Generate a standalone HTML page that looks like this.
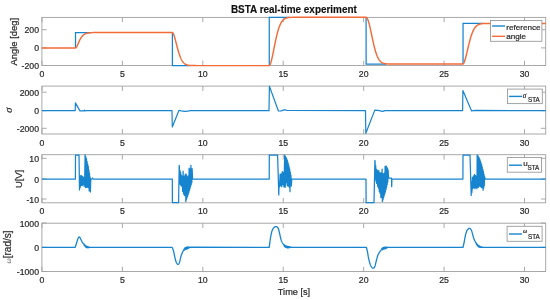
<!DOCTYPE html>
<html><head><meta charset="utf-8"><title>BSTA real-time experiment</title>
<style>html,body{margin:0;padding:0;background:#fff;width:550px;height:300px;overflow:hidden}svg{display:block}</style>
</head><body>
<svg width="550" height="300" viewBox="0 0 550 300">
<style>text{stroke:#2a2a2a;stroke-width:0.22px}</style>
<rect width="550" height="300" fill="#fff"/>
<rect x="41.9" y="17.4" width="503.8" height="48.1" fill="#fff" stroke="#a0a0a0" stroke-width="0.9"/>
<path d="M41.98,65.5 v-4.8 M41.98,17.4 v4.8" stroke="#a0a0a0" stroke-width="0.9"/>
<text x="41.98" y="77.1" font-size="8.7" text-anchor="middle" font-weight="normal" font-family="'Liberation Sans', Arial, sans-serif" fill="#2a2a2a" >0</text>
<path d="M122.4,65.5 v-4.8 M122.4,17.4 v4.8" stroke="#a0a0a0" stroke-width="0.9"/>
<text x="122.4" y="77.1" font-size="8.7" text-anchor="middle" font-weight="normal" font-family="'Liberation Sans', Arial, sans-serif" fill="#2a2a2a" >5</text>
<path d="M202.82,65.5 v-4.8 M202.82,17.4 v4.8" stroke="#a0a0a0" stroke-width="0.9"/>
<text x="202.82" y="77.1" font-size="8.7" text-anchor="middle" font-weight="normal" font-family="'Liberation Sans', Arial, sans-serif" fill="#2a2a2a" >10</text>
<path d="M283.24,65.5 v-4.8 M283.24,17.4 v4.8" stroke="#a0a0a0" stroke-width="0.9"/>
<text x="283.24" y="77.1" font-size="8.7" text-anchor="middle" font-weight="normal" font-family="'Liberation Sans', Arial, sans-serif" fill="#2a2a2a" >15</text>
<path d="M363.66,65.5 v-4.8 M363.66,17.4 v4.8" stroke="#a0a0a0" stroke-width="0.9"/>
<text x="363.66" y="77.1" font-size="8.7" text-anchor="middle" font-weight="normal" font-family="'Liberation Sans', Arial, sans-serif" fill="#2a2a2a" >20</text>
<path d="M444.08,65.5 v-4.8 M444.08,17.4 v4.8" stroke="#a0a0a0" stroke-width="0.9"/>
<text x="444.08" y="77.1" font-size="8.7" text-anchor="middle" font-weight="normal" font-family="'Liberation Sans', Arial, sans-serif" fill="#2a2a2a" >25</text>
<path d="M524.5,65.5 v-4.8 M524.5,17.4 v4.8" stroke="#a0a0a0" stroke-width="0.9"/>
<text x="524.5" y="77.1" font-size="8.7" text-anchor="middle" font-weight="normal" font-family="'Liberation Sans', Arial, sans-serif" fill="#2a2a2a" >30</text>
<path d="M41.9,29.7 h4.8 M545.7,29.7 h-4.8" stroke="#a0a0a0" stroke-width="0.9"/>
<text x="39" y="33.2" font-size="8.7" text-anchor="end" font-weight="normal" font-family="'Liberation Sans', Arial, sans-serif" fill="#2a2a2a" >200</text>
<path d="M41.9,47.9 h4.8 M545.7,47.9 h-4.8" stroke="#a0a0a0" stroke-width="0.9"/>
<text x="39" y="51.4" font-size="8.7" text-anchor="end" font-weight="normal" font-family="'Liberation Sans', Arial, sans-serif" fill="#2a2a2a" >0</text>
<path d="M41.9,65.5 h4.8 M545.7,65.5 h-4.8" stroke="#a0a0a0" stroke-width="0.9"/>
<text x="39" y="69" font-size="8.7" text-anchor="end" font-weight="normal" font-family="'Liberation Sans', Arial, sans-serif" fill="#2a2a2a" >-200</text>
<rect x="41.9" y="86.1" width="503.8" height="47.9" fill="#fff" stroke="#a0a0a0" stroke-width="0.9"/>
<path d="M41.98,134 v-4.8 M41.98,86.1 v4.8" stroke="#a0a0a0" stroke-width="0.9"/>
<text x="41.98" y="145.6" font-size="8.7" text-anchor="middle" font-weight="normal" font-family="'Liberation Sans', Arial, sans-serif" fill="#2a2a2a" >0</text>
<path d="M122.4,134 v-4.8 M122.4,86.1 v4.8" stroke="#a0a0a0" stroke-width="0.9"/>
<text x="122.4" y="145.6" font-size="8.7" text-anchor="middle" font-weight="normal" font-family="'Liberation Sans', Arial, sans-serif" fill="#2a2a2a" >5</text>
<path d="M202.82,134 v-4.8 M202.82,86.1 v4.8" stroke="#a0a0a0" stroke-width="0.9"/>
<text x="202.82" y="145.6" font-size="8.7" text-anchor="middle" font-weight="normal" font-family="'Liberation Sans', Arial, sans-serif" fill="#2a2a2a" >10</text>
<path d="M283.24,134 v-4.8 M283.24,86.1 v4.8" stroke="#a0a0a0" stroke-width="0.9"/>
<text x="283.24" y="145.6" font-size="8.7" text-anchor="middle" font-weight="normal" font-family="'Liberation Sans', Arial, sans-serif" fill="#2a2a2a" >15</text>
<path d="M363.66,134 v-4.8 M363.66,86.1 v4.8" stroke="#a0a0a0" stroke-width="0.9"/>
<text x="363.66" y="145.6" font-size="8.7" text-anchor="middle" font-weight="normal" font-family="'Liberation Sans', Arial, sans-serif" fill="#2a2a2a" >20</text>
<path d="M444.08,134 v-4.8 M444.08,86.1 v4.8" stroke="#a0a0a0" stroke-width="0.9"/>
<text x="444.08" y="145.6" font-size="8.7" text-anchor="middle" font-weight="normal" font-family="'Liberation Sans', Arial, sans-serif" fill="#2a2a2a" >25</text>
<path d="M524.5,134 v-4.8 M524.5,86.1 v4.8" stroke="#a0a0a0" stroke-width="0.9"/>
<text x="524.5" y="145.6" font-size="8.7" text-anchor="middle" font-weight="normal" font-family="'Liberation Sans', Arial, sans-serif" fill="#2a2a2a" >30</text>
<path d="M41.9,92.2 h4.8 M545.7,92.2 h-4.8" stroke="#a0a0a0" stroke-width="0.9"/>
<text x="39" y="95.7" font-size="8.7" text-anchor="end" font-weight="normal" font-family="'Liberation Sans', Arial, sans-serif" fill="#2a2a2a" >2000</text>
<path d="M41.9,110.7 h4.8 M545.7,110.7 h-4.8" stroke="#a0a0a0" stroke-width="0.9"/>
<text x="39" y="114.2" font-size="8.7" text-anchor="end" font-weight="normal" font-family="'Liberation Sans', Arial, sans-serif" fill="#2a2a2a" >0</text>
<path d="M41.9,128.3 h4.8 M545.7,128.3 h-4.8" stroke="#a0a0a0" stroke-width="0.9"/>
<text x="39" y="131.8" font-size="8.7" text-anchor="end" font-weight="normal" font-family="'Liberation Sans', Arial, sans-serif" fill="#2a2a2a" >-2000</text>
<rect x="41.9" y="154.7" width="503.8" height="48.1" fill="#fff" stroke="#a0a0a0" stroke-width="0.9"/>
<path d="M41.98,202.8 v-4.8 M41.98,154.7 v4.8" stroke="#a0a0a0" stroke-width="0.9"/>
<text x="41.98" y="214.4" font-size="8.7" text-anchor="middle" font-weight="normal" font-family="'Liberation Sans', Arial, sans-serif" fill="#2a2a2a" >0</text>
<path d="M122.4,202.8 v-4.8 M122.4,154.7 v4.8" stroke="#a0a0a0" stroke-width="0.9"/>
<text x="122.4" y="214.4" font-size="8.7" text-anchor="middle" font-weight="normal" font-family="'Liberation Sans', Arial, sans-serif" fill="#2a2a2a" >5</text>
<path d="M202.82,202.8 v-4.8 M202.82,154.7 v4.8" stroke="#a0a0a0" stroke-width="0.9"/>
<text x="202.82" y="214.4" font-size="8.7" text-anchor="middle" font-weight="normal" font-family="'Liberation Sans', Arial, sans-serif" fill="#2a2a2a" >10</text>
<path d="M283.24,202.8 v-4.8 M283.24,154.7 v4.8" stroke="#a0a0a0" stroke-width="0.9"/>
<text x="283.24" y="214.4" font-size="8.7" text-anchor="middle" font-weight="normal" font-family="'Liberation Sans', Arial, sans-serif" fill="#2a2a2a" >15</text>
<path d="M363.66,202.8 v-4.8 M363.66,154.7 v4.8" stroke="#a0a0a0" stroke-width="0.9"/>
<text x="363.66" y="214.4" font-size="8.7" text-anchor="middle" font-weight="normal" font-family="'Liberation Sans', Arial, sans-serif" fill="#2a2a2a" >20</text>
<path d="M444.08,202.8 v-4.8 M444.08,154.7 v4.8" stroke="#a0a0a0" stroke-width="0.9"/>
<text x="444.08" y="214.4" font-size="8.7" text-anchor="middle" font-weight="normal" font-family="'Liberation Sans', Arial, sans-serif" fill="#2a2a2a" >25</text>
<path d="M524.5,202.8 v-4.8 M524.5,154.7 v4.8" stroke="#a0a0a0" stroke-width="0.9"/>
<text x="524.5" y="214.4" font-size="8.7" text-anchor="middle" font-weight="normal" font-family="'Liberation Sans', Arial, sans-serif" fill="#2a2a2a" >30</text>
<path d="M41.9,158.3 h4.8 M545.7,158.3 h-4.8" stroke="#a0a0a0" stroke-width="0.9"/>
<text x="39" y="161.8" font-size="8.7" text-anchor="end" font-weight="normal" font-family="'Liberation Sans', Arial, sans-serif" fill="#2a2a2a" >10</text>
<path d="M41.9,179 h4.8 M545.7,179 h-4.8" stroke="#a0a0a0" stroke-width="0.9"/>
<text x="39" y="182.5" font-size="8.7" text-anchor="end" font-weight="normal" font-family="'Liberation Sans', Arial, sans-serif" fill="#2a2a2a" >0</text>
<path d="M41.9,199 h4.8 M545.7,199 h-4.8" stroke="#a0a0a0" stroke-width="0.9"/>
<text x="39" y="202.5" font-size="8.7" text-anchor="end" font-weight="normal" font-family="'Liberation Sans', Arial, sans-serif" fill="#2a2a2a" >-10</text>
<rect x="41.9" y="223.2" width="503.8" height="48.3" fill="#fff" stroke="#a0a0a0" stroke-width="0.9"/>
<path d="M41.98,271.5 v-4.8 M41.98,223.2 v4.8" stroke="#a0a0a0" stroke-width="0.9"/>
<text x="41.98" y="283.1" font-size="8.7" text-anchor="middle" font-weight="normal" font-family="'Liberation Sans', Arial, sans-serif" fill="#2a2a2a" >0</text>
<path d="M122.4,271.5 v-4.8 M122.4,223.2 v4.8" stroke="#a0a0a0" stroke-width="0.9"/>
<text x="122.4" y="283.1" font-size="8.7" text-anchor="middle" font-weight="normal" font-family="'Liberation Sans', Arial, sans-serif" fill="#2a2a2a" >5</text>
<path d="M202.82,271.5 v-4.8 M202.82,223.2 v4.8" stroke="#a0a0a0" stroke-width="0.9"/>
<text x="202.82" y="283.1" font-size="8.7" text-anchor="middle" font-weight="normal" font-family="'Liberation Sans', Arial, sans-serif" fill="#2a2a2a" >10</text>
<path d="M283.24,271.5 v-4.8 M283.24,223.2 v4.8" stroke="#a0a0a0" stroke-width="0.9"/>
<text x="283.24" y="283.1" font-size="8.7" text-anchor="middle" font-weight="normal" font-family="'Liberation Sans', Arial, sans-serif" fill="#2a2a2a" >15</text>
<path d="M363.66,271.5 v-4.8 M363.66,223.2 v4.8" stroke="#a0a0a0" stroke-width="0.9"/>
<text x="363.66" y="283.1" font-size="8.7" text-anchor="middle" font-weight="normal" font-family="'Liberation Sans', Arial, sans-serif" fill="#2a2a2a" >20</text>
<path d="M444.08,271.5 v-4.8 M444.08,223.2 v4.8" stroke="#a0a0a0" stroke-width="0.9"/>
<text x="444.08" y="283.1" font-size="8.7" text-anchor="middle" font-weight="normal" font-family="'Liberation Sans', Arial, sans-serif" fill="#2a2a2a" >25</text>
<path d="M524.5,271.5 v-4.8 M524.5,223.2 v4.8" stroke="#a0a0a0" stroke-width="0.9"/>
<text x="524.5" y="283.1" font-size="8.7" text-anchor="middle" font-weight="normal" font-family="'Liberation Sans', Arial, sans-serif" fill="#2a2a2a" >30</text>
<path d="M41.9,223 h4.8 M545.7,223 h-4.8" stroke="#a0a0a0" stroke-width="0.9"/>
<text x="39" y="226.5" font-size="8.7" text-anchor="end" font-weight="normal" font-family="'Liberation Sans', Arial, sans-serif" fill="#2a2a2a" >1000</text>
<path d="M41.9,247.3 h4.8 M545.7,247.3 h-4.8" stroke="#a0a0a0" stroke-width="0.9"/>
<text x="39" y="250.8" font-size="8.7" text-anchor="end" font-weight="normal" font-family="'Liberation Sans', Arial, sans-serif" fill="#2a2a2a" >0</text>
<path d="M41.9,271.5 h4.8 M545.7,271.5 h-4.8" stroke="#a0a0a0" stroke-width="0.9"/>
<text x="39" y="275" font-size="8.7" text-anchor="end" font-weight="normal" font-family="'Liberation Sans', Arial, sans-serif" fill="#2a2a2a" >-1000</text>
<path d="M75.5,47.9 L75.5,32.5 L91.4,32.5 M172.4,32.5 L172.4,65.6 L190.15,65.6 M269.25,65.6 L269.25,17.3 L289.9,17.3 M366.1,17.3 L366.1,64 L386.65,64 M463.05,64 L463.05,23.4 L483.4,23.4" fill="none" stroke="#1784cf" stroke-width="1.25" stroke-linejoin="miter"/>
<path d="M41.9,47.9 L42.15,47.9 L42.4,47.9 L42.65,47.9 L42.9,47.9 L43.15,47.9 L43.4,47.9 L43.65,47.9 L43.9,47.9 L44.15,47.9 L44.4,47.9 L44.65,47.9 L44.9,47.9 L45.15,47.9 L45.4,47.9 L45.65,47.9 L45.9,47.9 L46.15,47.9 L46.4,47.9 L46.65,47.9 L46.9,47.9 L47.15,47.9 L47.4,47.9 L47.65,47.9 L47.9,47.9 L48.15,47.9 L48.4,47.9 L48.65,47.9 L48.9,47.9 L49.15,47.9 L49.4,47.9 L49.65,47.9 L49.9,47.9 L50.15,47.9 L50.4,47.9 L50.65,47.9 L50.9,47.9 L51.15,47.9 L51.4,47.9 L51.65,47.9 L51.9,47.9 L52.15,47.9 L52.4,47.9 L52.65,47.9 L52.9,47.9 L53.15,47.9 L53.4,47.9 L53.65,47.9 L53.9,47.9 L54.15,47.9 L54.4,47.9 L54.65,47.9 L54.9,47.9 L55.15,47.9 L55.4,47.9 L55.65,47.9 L55.9,47.9 L56.15,47.9 L56.4,47.9 L56.65,47.9 L56.9,47.9 L57.15,47.9 L57.4,47.9 L57.65,47.9 L57.9,47.9 L58.15,47.9 L58.4,47.9 L58.65,47.9 L58.9,47.9 L59.15,47.9 L59.4,47.9 L59.65,47.9 L59.9,47.9 L60.15,47.9 L60.4,47.9 L60.65,47.9 L60.9,47.9 L61.15,47.9 L61.4,47.9 L61.65,47.9 L61.9,47.9 L62.15,47.9 L62.4,47.9 L62.65,47.9 L62.9,47.9 L63.15,47.9 L63.4,47.9 L63.65,47.9 L63.9,47.9 L64.15,47.9 L64.4,47.9 L64.65,47.9 L64.9,47.9 L65.15,47.9 L65.4,47.9 L65.65,47.9 L65.9,47.9 L66.15,47.9 L66.4,47.9 L66.65,47.9 L66.9,47.9 L67.15,47.9 L67.4,47.9 L67.65,47.9 L67.9,47.9 L68.15,47.9 L68.4,47.9 L68.65,47.9 L68.9,47.9 L69.15,47.9 L69.4,47.9 L69.65,47.9 L69.9,47.9 L70.15,47.9 L70.4,47.9 L70.65,47.9 L70.9,47.9 L71.15,47.9 L71.4,47.9 L71.65,47.9 L71.9,47.9 L72.15,47.9 L72.4,47.9 L72.65,47.9 L72.9,47.9 L73.15,47.9 L73.4,47.9 L73.65,47.9 L73.9,47.9 L74.15,47.9 L74.4,47.9 L74.65,47.9 L74.9,47.9 L75.15,47.9 L75.4,47.9 L75.65,47.9 L75.9,47.85 L76.15,47.66 L76.4,47.35 L76.65,46.95 L76.9,46.48 L77.15,45.96 L77.4,45.41 L77.65,44.83 L77.9,44.24 L78.15,43.64 L78.4,43.04 L78.65,42.46 L78.9,41.88 L79.15,41.32 L79.4,40.78 L79.65,40.26 L79.9,39.76 L80.15,39.28 L80.4,38.82 L80.65,38.39 L80.9,37.98 L81.15,37.6 L81.4,37.23 L81.65,36.89 L81.9,36.57 L82.15,36.27 L82.4,35.99 L82.65,35.73 L82.9,35.48 L83.15,35.25 L83.4,35.04 L83.65,34.84 L83.9,34.66 L84.15,34.49 L84.4,34.33 L84.65,34.18 L84.9,34.05 L85.15,33.92 L85.4,33.81 L85.65,33.7 L85.9,33.6 L86.15,33.51 L86.4,33.43 L86.65,33.35 L86.9,33.28 L87.15,33.22 L87.4,33.16 L87.65,33.1 L87.9,33.05 L88.15,33 L88.4,32.96 L88.65,32.92 L88.9,32.89 L89.15,32.85 L89.4,32.82 L89.65,32.79 L89.9,32.77 L90.15,32.75 L90.4,32.72 L90.65,32.71 L90.9,32.69 L91.15,32.67 L91.4,32.66 L91.65,32.64 L91.9,32.63 L92.15,32.62 L92.4,32.61 L92.65,32.6 L92.9,32.59 L93.15,32.58 L93.4,32.57 L93.65,32.57 L93.9,32.56 L94.15,32.56 L94.4,32.55 L94.65,32.55 L94.9,32.54 L95.15,32.54 L95.4,32.54 L95.65,32.53 L95.9,32.53 L96.15,32.53 L96.4,32.52 L96.65,32.52 L96.9,32.52 L97.15,32.52 L97.4,32.52 L97.65,32.52 L97.9,32.51 L98.15,32.51 L98.4,32.51 L98.65,32.51 L98.9,32.51 L99.15,32.51 L99.4,32.51 L99.65,32.51 L99.9,32.51 L100.15,32.51 L100.4,32.51 L100.65,32.5 L100.9,32.5 L101.15,32.5 L101.4,32.5 L101.65,32.5 L101.9,32.5 L102.15,32.5 L102.4,32.5 L102.65,32.5 L102.9,32.5 L103.15,32.5 L103.4,32.5 L103.65,32.5 L103.9,32.5 L104.15,32.5 L104.4,32.5 L104.65,32.5 L104.9,32.5 L105.15,32.5 L105.4,32.5 L105.65,32.5 L105.9,32.5 L106.15,32.5 L106.4,32.5 L106.65,32.5 L106.9,32.5 L107.15,32.5 L107.4,32.5 L107.65,32.5 L107.9,32.5 L108.15,32.5 L108.4,32.5 L108.65,32.5 L108.9,32.5 L109.15,32.5 L109.4,32.5 L109.65,32.5 L109.9,32.5 L110.15,32.5 L110.4,32.5 L110.65,32.5 L110.9,32.5 L111.15,32.5 L111.4,32.5 L111.65,32.5 L111.9,32.5 L112.15,32.5 L112.4,32.5 L112.65,32.5 L112.9,32.5 L113.15,32.5 L113.4,32.5 L113.65,32.5 L113.9,32.5 L114.15,32.5 L114.4,32.5 L114.65,32.5 L114.9,32.5 L115.15,32.5 L115.4,32.5 L115.65,32.5 L115.9,32.5 L116.15,32.5 L116.4,32.5 L116.65,32.5 L116.9,32.5 L117.15,32.5 L117.4,32.5 L117.65,32.5 L117.9,32.5 L118.15,32.5 L118.4,32.5 L118.65,32.5 L118.9,32.5 L119.15,32.5 L119.4,32.5 L119.65,32.5 L119.9,32.5 L120.15,32.5 L120.4,32.5 L120.65,32.5 L120.9,32.5 L121.15,32.5 L121.4,32.5 L121.65,32.5 L121.9,32.5 L122.15,32.5 L122.4,32.5 L122.65,32.5 L122.9,32.5 L123.15,32.5 L123.4,32.5 L123.65,32.5 L123.9,32.5 L124.15,32.5 L124.4,32.5 L124.65,32.5 L124.9,32.5 L125.15,32.5 L125.4,32.5 L125.65,32.5 L125.9,32.5 L126.15,32.5 L126.4,32.5 L126.65,32.5 L126.9,32.5 L127.15,32.5 L127.4,32.5 L127.65,32.5 L127.9,32.5 L128.15,32.5 L128.4,32.5 L128.65,32.5 L128.9,32.5 L129.15,32.5 L129.4,32.5 L129.65,32.5 L129.9,32.5 L130.15,32.5 L130.4,32.5 L130.65,32.5 L130.9,32.5 L131.15,32.5 L131.4,32.5 L131.65,32.5 L131.9,32.5 L132.15,32.5 L132.4,32.5 L132.65,32.5 L132.9,32.5 L133.15,32.5 L133.4,32.5 L133.65,32.5 L133.9,32.5 L134.15,32.5 L134.4,32.5 L134.65,32.5 L134.9,32.5 L135.15,32.5 L135.4,32.5 L135.65,32.5 L135.9,32.5 L136.15,32.5 L136.4,32.5 L136.65,32.5 L136.9,32.5 L137.15,32.5 L137.4,32.5 L137.65,32.5 L137.9,32.5 L138.15,32.5 L138.4,32.5 L138.65,32.5 L138.9,32.5 L139.15,32.5 L139.4,32.5 L139.65,32.5 L139.9,32.5 L140.15,32.5 L140.4,32.5 L140.65,32.5 L140.9,32.5 L141.15,32.5 L141.4,32.5 L141.65,32.5 L141.9,32.5 L142.15,32.5 L142.4,32.5 L142.65,32.5 L142.9,32.5 L143.15,32.5 L143.4,32.5 L143.65,32.5 L143.9,32.5 L144.15,32.5 L144.4,32.5 L144.65,32.5 L144.9,32.5 L145.15,32.5 L145.4,32.5 L145.65,32.5 L145.9,32.5 L146.15,32.5 L146.4,32.5 L146.65,32.5 L146.9,32.5 L147.15,32.5 L147.4,32.5 L147.65,32.5 L147.9,32.5 L148.15,32.5 L148.4,32.5 L148.65,32.5 L148.9,32.5 L149.15,32.5 L149.4,32.5 L149.65,32.5 L149.9,32.5 L150.15,32.5 L150.4,32.5 L150.65,32.5 L150.9,32.5 L151.15,32.5 L151.4,32.5 L151.65,32.5 L151.9,32.5 L152.15,32.5 L152.4,32.5 L152.65,32.5 L152.9,32.5 L153.15,32.5 L153.4,32.5 L153.65,32.5 L153.9,32.5 L154.15,32.5 L154.4,32.5 L154.65,32.5 L154.9,32.5 L155.15,32.5 L155.4,32.5 L155.65,32.5 L155.9,32.5 L156.15,32.5 L156.4,32.5 L156.65,32.5 L156.9,32.5 L157.15,32.5 L157.4,32.5 L157.65,32.5 L157.9,32.5 L158.15,32.5 L158.4,32.5 L158.65,32.5 L158.9,32.5 L159.15,32.5 L159.4,32.5 L159.65,32.5 L159.9,32.5 L160.15,32.5 L160.4,32.5 L160.65,32.5 L160.9,32.5 L161.15,32.5 L161.4,32.5 L161.65,32.5 L161.9,32.5 L162.15,32.5 L162.4,32.5 L162.65,32.5 L162.9,32.5 L163.15,32.5 L163.4,32.5 L163.65,32.5 L163.9,32.5 L164.15,32.5 L164.4,32.5 L164.65,32.5 L164.9,32.5 L165.15,32.5 L165.4,32.5 L165.65,32.5 L165.9,32.5 L166.15,32.5 L166.4,32.5 L166.65,32.5 L166.9,32.5 L167.15,32.5 L167.4,32.5 L167.65,32.5 L167.9,32.5 L168.15,32.5 L168.4,32.5 L168.65,32.5 L168.9,32.5 L169.15,32.5 L169.4,32.5 L169.65,32.5 L169.9,32.5 L170.15,32.5 L170.4,32.5 L170.65,32.5 L170.9,32.5 L171.15,32.5 L171.4,32.5 L171.65,32.5 L171.9,32.5 L172.15,32.5 L172.4,32.5 L172.65,32.63 L172.9,32.91 L173.15,33.31 L173.4,33.81 L173.65,34.4 L173.9,35.06 L174.15,35.79 L174.4,36.58 L174.65,37.41 L174.9,38.28 L175.15,39.19 L175.4,40.12 L175.65,41.08 L175.9,42.04 L176.15,43.02 L176.4,44 L176.65,44.98 L176.9,45.95 L177.15,46.91 L177.4,47.86 L177.65,48.79 L177.9,49.7 L178.15,50.59 L178.4,51.46 L178.65,52.3 L178.9,53.11 L179.15,53.89 L179.4,54.64 L179.65,55.36 L179.9,56.05 L180.15,56.7 L180.4,57.33 L180.65,57.92 L180.9,58.49 L181.15,59.02 L181.4,59.52 L181.65,59.99 L181.9,60.43 L182.15,60.85 L182.4,61.24 L182.65,61.6 L182.9,61.94 L183.15,62.25 L183.4,62.55 L183.65,62.82 L183.9,63.07 L184.15,63.3 L184.4,63.51 L184.65,63.71 L184.9,63.89 L185.15,64.05 L185.4,64.2 L185.65,64.34 L185.9,64.47 L186.15,64.58 L186.4,64.69 L186.65,64.78 L186.9,64.87 L187.15,64.95 L187.4,65.02 L187.65,65.08 L187.9,65.14 L188.15,65.19 L188.4,65.23 L188.65,65.28 L188.9,65.31 L189.15,65.35 L189.4,65.38 L189.65,65.4 L189.9,65.43 L190.15,65.45 L190.4,65.47 L190.65,65.48 L190.9,65.5 L191.15,65.51 L191.4,65.52 L191.65,65.53 L191.9,65.54 L192.15,65.55 L192.4,65.55 L192.65,65.56 L192.9,65.57 L193.15,65.57 L193.4,65.57 L193.65,65.58 L193.9,65.58 L194.15,65.58 L194.4,65.59 L194.65,65.59 L194.9,65.59 L195.15,65.59 L195.4,65.59 L195.65,65.59 L195.9,65.59 L196.15,65.6 L196.4,65.6 L196.65,65.6 L196.9,65.6 L197.15,65.6 L197.4,65.6 L197.65,65.6 L197.9,65.6 L198.15,65.6 L198.4,65.6 L198.65,65.6 L198.9,65.6 L199.15,65.6 L199.4,65.6 L199.65,65.6 L199.9,65.6 L200.15,65.6 L200.4,65.6 L200.65,65.6 L200.9,65.6 L201.15,65.6 L201.4,65.6 L201.65,65.6 L201.9,65.6 L202.15,65.6 L202.4,65.6 L202.65,65.6 L202.9,65.6 L203.15,65.6 L203.4,65.6 L203.65,65.6 L203.9,65.6 L204.15,65.6 L204.4,65.6 L204.65,65.6 L204.9,65.6 L205.15,65.6 L205.4,65.6 L205.65,65.6 L205.9,65.6 L206.15,65.6 L206.4,65.6 L206.65,65.6 L206.9,65.6 L207.15,65.6 L207.4,65.6 L207.65,65.6 L207.9,65.6 L208.15,65.6 L208.4,65.6 L208.65,65.6 L208.9,65.6 L209.15,65.6 L209.4,65.6 L209.65,65.6 L209.9,65.6 L210.15,65.6 L210.4,65.6 L210.65,65.6 L210.9,65.6 L211.15,65.6 L211.4,65.6 L211.65,65.6 L211.9,65.6 L212.15,65.6 L212.4,65.6 L212.65,65.6 L212.9,65.6 L213.15,65.6 L213.4,65.6 L213.65,65.6 L213.9,65.6 L214.15,65.6 L214.4,65.6 L214.65,65.6 L214.9,65.6 L215.15,65.6 L215.4,65.6 L215.65,65.6 L215.9,65.6 L216.15,65.6 L216.4,65.6 L216.65,65.6 L216.9,65.6 L217.15,65.6 L217.4,65.6 L217.65,65.6 L217.9,65.6 L218.15,65.6 L218.4,65.6 L218.65,65.6 L218.9,65.6 L219.15,65.6 L219.4,65.6 L219.65,65.6 L219.9,65.6 L220.15,65.6 L220.4,65.6 L220.65,65.6 L220.9,65.6 L221.15,65.6 L221.4,65.6 L221.65,65.6 L221.9,65.6 L222.15,65.6 L222.4,65.6 L222.65,65.6 L222.9,65.6 L223.15,65.6 L223.4,65.6 L223.65,65.6 L223.9,65.6 L224.15,65.6 L224.4,65.6 L224.65,65.6 L224.9,65.6 L225.15,65.6 L225.4,65.6 L225.65,65.6 L225.9,65.6 L226.15,65.6 L226.4,65.6 L226.65,65.6 L226.9,65.6 L227.15,65.6 L227.4,65.6 L227.65,65.6 L227.9,65.6 L228.15,65.6 L228.4,65.6 L228.65,65.6 L228.9,65.6 L229.15,65.6 L229.4,65.6 L229.65,65.6 L229.9,65.6 L230.15,65.6 L230.4,65.6 L230.65,65.6 L230.9,65.6 L231.15,65.6 L231.4,65.6 L231.65,65.6 L231.9,65.6 L232.15,65.6 L232.4,65.6 L232.65,65.6 L232.9,65.6 L233.15,65.6 L233.4,65.6 L233.65,65.6 L233.9,65.6 L234.15,65.6 L234.4,65.6 L234.65,65.6 L234.9,65.6 L235.15,65.6 L235.4,65.6 L235.65,65.6 L235.9,65.6 L236.15,65.6 L236.4,65.6 L236.65,65.6 L236.9,65.6 L237.15,65.6 L237.4,65.6 L237.65,65.6 L237.9,65.6 L238.15,65.6 L238.4,65.6 L238.65,65.6 L238.9,65.6 L239.15,65.6 L239.4,65.6 L239.65,65.6 L239.9,65.6 L240.15,65.6 L240.4,65.6 L240.65,65.6 L240.9,65.6 L241.15,65.6 L241.4,65.6 L241.65,65.6 L241.9,65.6 L242.15,65.6 L242.4,65.6 L242.65,65.6 L242.9,65.6 L243.15,65.6 L243.4,65.6 L243.65,65.6 L243.9,65.6 L244.15,65.6 L244.4,65.6 L244.65,65.6 L244.9,65.6 L245.15,65.6 L245.4,65.6 L245.65,65.6 L245.9,65.6 L246.15,65.6 L246.4,65.6 L246.65,65.6 L246.9,65.6 L247.15,65.6 L247.4,65.6 L247.65,65.6 L247.9,65.6 L248.15,65.6 L248.4,65.6 L248.65,65.6 L248.9,65.6 L249.15,65.6 L249.4,65.6 L249.65,65.6 L249.9,65.6 L250.15,65.6 L250.4,65.6 L250.65,65.6 L250.9,65.6 L251.15,65.6 L251.4,65.6 L251.65,65.6 L251.9,65.6 L252.15,65.6 L252.4,65.6 L252.65,65.6 L252.9,65.6 L253.15,65.6 L253.4,65.6 L253.65,65.6 L253.9,65.6 L254.15,65.6 L254.4,65.6 L254.65,65.6 L254.9,65.6 L255.15,65.6 L255.4,65.6 L255.65,65.6 L255.9,65.6 L256.15,65.6 L256.4,65.6 L256.65,65.6 L256.9,65.6 L257.15,65.6 L257.4,65.6 L257.65,65.6 L257.9,65.6 L258.15,65.6 L258.4,65.6 L258.65,65.6 L258.9,65.6 L259.15,65.6 L259.4,65.6 L259.65,65.6 L259.9,65.6 L260.15,65.6 L260.4,65.6 L260.65,65.6 L260.9,65.6 L261.15,65.6 L261.4,65.6 L261.65,65.6 L261.9,65.6 L262.15,65.6 L262.4,65.6 L262.65,65.6 L262.9,65.6 L263.15,65.6 L263.4,65.6 L263.65,65.6 L263.9,65.6 L264.15,65.6 L264.4,65.6 L264.65,65.6 L264.9,65.6 L265.15,65.6 L265.4,65.6 L265.65,65.6 L265.9,65.6 L266.15,65.6 L266.4,65.6 L266.65,65.6 L266.9,65.6 L267.15,65.6 L267.4,65.6 L267.65,65.6 L267.9,65.6 L268.15,65.6 L268.4,65.6 L268.65,65.6 L268.9,65.6 L269.15,65.6 L269.4,65.55 L269.65,65.32 L269.9,64.95 L270.15,64.46 L270.4,63.86 L270.65,63.16 L270.9,62.38 L271.15,61.51 L271.4,60.58 L271.65,59.58 L271.9,58.53 L272.15,57.43 L272.4,56.29 L272.65,55.12 L272.9,53.91 L273.15,52.69 L273.4,51.44 L273.65,50.19 L273.9,48.93 L274.15,47.67 L274.4,46.42 L274.65,45.17 L274.9,43.94 L275.15,42.72 L275.4,41.52 L275.65,40.34 L275.9,39.19 L276.15,38.06 L276.4,36.96 L276.65,35.9 L276.9,34.86 L277.15,33.87 L277.4,32.9 L277.65,31.97 L277.9,31.08 L278.15,30.22 L278.4,29.41 L278.65,28.62 L278.9,27.88 L279.15,27.17 L279.4,26.49 L279.65,25.85 L279.9,25.25 L280.15,24.67 L280.4,24.13 L280.65,23.62 L280.9,23.15 L281.15,22.7 L281.4,22.28 L281.65,21.88 L281.9,21.51 L282.15,21.17 L282.4,20.85 L282.65,20.55 L282.9,20.28 L283.15,20.02 L283.4,19.78 L283.65,19.56 L283.9,19.36 L284.15,19.18 L284.4,19 L284.65,18.85 L284.9,18.7 L285.15,18.57 L285.4,18.45 L285.65,18.34 L285.9,18.23 L286.15,18.14 L286.4,18.06 L286.65,17.98 L286.9,17.91 L287.15,17.85 L287.4,17.79 L287.65,17.74 L287.9,17.69 L288.15,17.65 L288.4,17.61 L288.65,17.58 L288.9,17.55 L289.15,17.52 L289.4,17.5 L289.65,17.47 L289.9,17.45 L290.15,17.44 L290.4,17.42 L290.65,17.41 L290.9,17.39 L291.15,17.38 L291.4,17.37 L291.65,17.36 L291.9,17.36 L292.15,17.35 L292.4,17.34 L292.65,17.34 L292.9,17.33 L293.15,17.33 L293.4,17.33 L293.65,17.32 L293.9,17.32 L294.15,17.32 L294.4,17.31 L294.65,17.31 L294.9,17.31 L295.15,17.31 L295.4,17.31 L295.65,17.31 L295.9,17.31 L296.15,17.31 L296.4,17.3 L296.65,17.3 L296.9,17.3 L297.15,17.3 L297.4,17.3 L297.65,17.3 L297.9,17.3 L298.15,17.3 L298.4,17.3 L298.65,17.3 L298.9,17.3 L299.15,17.3 L299.4,17.3 L299.65,17.3 L299.9,17.3 L300.15,17.3 L300.4,17.3 L300.65,17.3 L300.9,17.3 L301.15,17.3 L301.4,17.3 L301.65,17.3 L301.9,17.3 L302.15,17.3 L302.4,17.3 L302.65,17.3 L302.9,17.3 L303.15,17.3 L303.4,17.3 L303.65,17.3 L303.9,17.3 L304.15,17.3 L304.4,17.3 L304.65,17.3 L304.9,17.3 L305.15,17.3 L305.4,17.3 L305.65,17.3 L305.9,17.3 L306.15,17.3 L306.4,17.3 L306.65,17.3 L306.9,17.3 L307.15,17.3 L307.4,17.3 L307.65,17.3 L307.9,17.3 L308.15,17.3 L308.4,17.3 L308.65,17.3 L308.9,17.3 L309.15,17.3 L309.4,17.3 L309.65,17.3 L309.9,17.3 L310.15,17.3 L310.4,17.3 L310.65,17.3 L310.9,17.3 L311.15,17.3 L311.4,17.3 L311.65,17.3 L311.9,17.3 L312.15,17.3 L312.4,17.3 L312.65,17.3 L312.9,17.3 L313.15,17.3 L313.4,17.3 L313.65,17.3 L313.9,17.3 L314.15,17.3 L314.4,17.3 L314.65,17.3 L314.9,17.3 L315.15,17.3 L315.4,17.3 L315.65,17.3 L315.9,17.3 L316.15,17.3 L316.4,17.3 L316.65,17.3 L316.9,17.3 L317.15,17.3 L317.4,17.3 L317.65,17.3 L317.9,17.3 L318.15,17.3 L318.4,17.3 L318.65,17.3 L318.9,17.3 L319.15,17.3 L319.4,17.3 L319.65,17.3 L319.9,17.3 L320.15,17.3 L320.4,17.3 L320.65,17.3 L320.9,17.3 L321.15,17.3 L321.4,17.3 L321.65,17.3 L321.9,17.3 L322.15,17.3 L322.4,17.3 L322.65,17.3 L322.9,17.3 L323.15,17.3 L323.4,17.3 L323.65,17.3 L323.9,17.3 L324.15,17.3 L324.4,17.3 L324.65,17.3 L324.9,17.3 L325.15,17.3 L325.4,17.3 L325.65,17.3 L325.9,17.3 L326.15,17.3 L326.4,17.3 L326.65,17.3 L326.9,17.3 L327.15,17.3 L327.4,17.3 L327.65,17.3 L327.9,17.3 L328.15,17.3 L328.4,17.3 L328.65,17.3 L328.9,17.3 L329.15,17.3 L329.4,17.3 L329.65,17.3 L329.9,17.3 L330.15,17.3 L330.4,17.3 L330.65,17.3 L330.9,17.3 L331.15,17.3 L331.4,17.3 L331.65,17.3 L331.9,17.3 L332.15,17.3 L332.4,17.3 L332.65,17.3 L332.9,17.3 L333.15,17.3 L333.4,17.3 L333.65,17.3 L333.9,17.3 L334.15,17.3 L334.4,17.3 L334.65,17.3 L334.9,17.3 L335.15,17.3 L335.4,17.3 L335.65,17.3 L335.9,17.3 L336.15,17.3 L336.4,17.3 L336.65,17.3 L336.9,17.3 L337.15,17.3 L337.4,17.3 L337.65,17.3 L337.9,17.3 L338.15,17.3 L338.4,17.3 L338.65,17.3 L338.9,17.3 L339.15,17.3 L339.4,17.3 L339.65,17.3 L339.9,17.3 L340.15,17.3 L340.4,17.3 L340.65,17.3 L340.9,17.3 L341.15,17.3 L341.4,17.3 L341.65,17.3 L341.9,17.3 L342.15,17.3 L342.4,17.3 L342.65,17.3 L342.9,17.3 L343.15,17.3 L343.4,17.3 L343.65,17.3 L343.9,17.3 L344.15,17.3 L344.4,17.3 L344.65,17.3 L344.9,17.3 L345.15,17.3 L345.4,17.3 L345.65,17.3 L345.9,17.3 L346.15,17.3 L346.4,17.3 L346.65,17.3 L346.9,17.3 L347.15,17.3 L347.4,17.3 L347.65,17.3 L347.9,17.3 L348.15,17.3 L348.4,17.3 L348.65,17.3 L348.9,17.3 L349.15,17.3 L349.4,17.3 L349.65,17.3 L349.9,17.3 L350.15,17.3 L350.4,17.3 L350.65,17.3 L350.9,17.3 L351.15,17.3 L351.4,17.3 L351.65,17.3 L351.9,17.3 L352.15,17.3 L352.4,17.3 L352.65,17.3 L352.9,17.3 L353.15,17.3 L353.4,17.3 L353.65,17.3 L353.9,17.3 L354.15,17.3 L354.4,17.3 L354.65,17.3 L354.9,17.3 L355.15,17.3 L355.4,17.3 L355.65,17.3 L355.9,17.3 L356.15,17.3 L356.4,17.3 L356.65,17.3 L356.9,17.3 L357.15,17.3 L357.4,17.3 L357.65,17.3 L357.9,17.3 L358.15,17.3 L358.4,17.3 L358.65,17.3 L358.9,17.3 L359.15,17.3 L359.4,17.3 L359.65,17.3 L359.9,17.3 L360.15,17.3 L360.4,17.3 L360.65,17.3 L360.9,17.3 L361.15,17.3 L361.4,17.3 L361.65,17.3 L361.9,17.3 L362.15,17.3 L362.4,17.3 L362.65,17.3 L362.9,17.3 L363.15,17.3 L363.4,17.3 L363.65,17.3 L363.9,17.3 L364.15,17.3 L364.4,17.3 L364.65,17.3 L364.9,17.3 L365.15,17.3 L365.4,17.3 L365.65,17.3 L365.9,17.3 L366.15,17.3 L366.4,17.39 L366.65,17.57 L366.9,17.86 L367.15,18.23 L367.4,18.69 L367.65,19.23 L367.9,19.85 L368.15,20.54 L368.4,21.29 L368.65,22.11 L368.9,22.99 L369.15,23.91 L369.4,24.89 L369.65,25.91 L369.9,26.97 L370.15,28.06 L370.4,29.17 L370.65,30.31 L370.9,31.47 L371.15,32.64 L371.4,33.81 L371.65,35 L371.9,36.18 L372.15,37.36 L372.4,38.52 L372.65,39.68 L372.9,40.83 L373.15,41.95 L373.4,43.05 L373.65,44.13 L373.9,45.19 L374.15,46.22 L374.4,47.22 L374.65,48.18 L374.9,49.12 L375.15,50.02 L375.4,50.89 L375.65,51.72 L375.9,52.52 L376.15,53.28 L376.4,54.01 L376.65,54.7 L376.9,55.36 L377.15,55.99 L377.4,56.58 L377.65,57.13 L377.9,57.66 L378.15,58.15 L378.4,58.62 L378.65,59.05 L378.9,59.46 L379.15,59.84 L379.4,60.19 L379.65,60.52 L379.9,60.83 L380.15,61.11 L380.4,61.37 L380.65,61.61 L380.9,61.83 L381.15,62.04 L381.4,62.23 L381.65,62.4 L381.9,62.56 L382.15,62.7 L382.4,62.83 L382.65,62.95 L382.9,63.06 L383.15,63.16 L383.4,63.25 L383.65,63.33 L383.9,63.4 L384.15,63.47 L384.4,63.53 L384.65,63.58 L384.9,63.63 L385.15,63.67 L385.4,63.71 L385.65,63.75 L385.9,63.78 L386.15,63.8 L386.4,63.83 L386.65,63.85 L386.9,63.87 L387.15,63.88 L387.4,63.9 L387.65,63.91 L387.9,63.92 L388.15,63.93 L388.4,63.94 L388.65,63.95 L388.9,63.96 L389.15,63.96 L389.4,63.97 L389.65,63.97 L389.9,63.98 L390.15,63.98 L390.4,63.98 L390.65,63.98 L390.9,63.99 L391.15,63.99 L391.4,63.99 L391.65,63.99 L391.9,63.99 L392.15,63.99 L392.4,64 L392.65,64 L392.9,64 L393.15,64 L393.4,64 L393.65,64 L393.9,64 L394.15,64 L394.4,64 L394.65,64 L394.9,64 L395.15,64 L395.4,64 L395.65,64 L395.9,64 L396.15,64 L396.4,64 L396.65,64 L396.9,64 L397.15,64 L397.4,64 L397.65,64 L397.9,64 L398.15,64 L398.4,64 L398.65,64 L398.9,64 L399.15,64 L399.4,64 L399.65,64 L399.9,64 L400.15,64 L400.4,64 L400.65,64 L400.9,64 L401.15,64 L401.4,64 L401.65,64 L401.9,64 L402.15,64 L402.4,64 L402.65,64 L402.9,64 L403.15,64 L403.4,64 L403.65,64 L403.9,64 L404.15,64 L404.4,64 L404.65,64 L404.9,64 L405.15,64 L405.4,64 L405.65,64 L405.9,64 L406.15,64 L406.4,64 L406.65,64 L406.9,64 L407.15,64 L407.4,64 L407.65,64 L407.9,64 L408.15,64 L408.4,64 L408.65,64 L408.9,64 L409.15,64 L409.4,64 L409.65,64 L409.9,64 L410.15,64 L410.4,64 L410.65,64 L410.9,64 L411.15,64 L411.4,64 L411.65,64 L411.9,64 L412.15,64 L412.4,64 L412.65,64 L412.9,64 L413.15,64 L413.4,64 L413.65,64 L413.9,64 L414.15,64 L414.4,64 L414.65,64 L414.9,64 L415.15,64 L415.4,64 L415.65,64 L415.9,64 L416.15,64 L416.4,64 L416.65,64 L416.9,64 L417.15,64 L417.4,64 L417.65,64 L417.9,64 L418.15,64 L418.4,64 L418.65,64 L418.9,64 L419.15,64 L419.4,64 L419.65,64 L419.9,64 L420.15,64 L420.4,64 L420.65,64 L420.9,64 L421.15,64 L421.4,64 L421.65,64 L421.9,64 L422.15,64 L422.4,64 L422.65,64 L422.9,64 L423.15,64 L423.4,64 L423.65,64 L423.9,64 L424.15,64 L424.4,64 L424.65,64 L424.9,64 L425.15,64 L425.4,64 L425.65,64 L425.9,64 L426.15,64 L426.4,64 L426.65,64 L426.9,64 L427.15,64 L427.4,64 L427.65,64 L427.9,64 L428.15,64 L428.4,64 L428.65,64 L428.9,64 L429.15,64 L429.4,64 L429.65,64 L429.9,64 L430.15,64 L430.4,64 L430.65,64 L430.9,64 L431.15,64 L431.4,64 L431.65,64 L431.9,64 L432.15,64 L432.4,64 L432.65,64 L432.9,64 L433.15,64 L433.4,64 L433.65,64 L433.9,64 L434.15,64 L434.4,64 L434.65,64 L434.9,64 L435.15,64 L435.4,64 L435.65,64 L435.9,64 L436.15,64 L436.4,64 L436.65,64 L436.9,64 L437.15,64 L437.4,64 L437.65,64 L437.9,64 L438.15,64 L438.4,64 L438.65,64 L438.9,64 L439.15,64 L439.4,64 L439.65,64 L439.9,64 L440.15,64 L440.4,64 L440.65,64 L440.9,64 L441.15,64 L441.4,64 L441.65,64 L441.9,64 L442.15,64 L442.4,64 L442.65,64 L442.9,64 L443.15,64 L443.4,64 L443.65,64 L443.9,64 L444.15,64 L444.4,64 L444.65,64 L444.9,64 L445.15,64 L445.4,64 L445.65,64 L445.9,64 L446.15,64 L446.4,64 L446.65,64 L446.9,64 L447.15,64 L447.4,64 L447.65,64 L447.9,64 L448.15,64 L448.4,64 L448.65,64 L448.9,64 L449.15,64 L449.4,64 L449.65,64 L449.9,64 L450.15,64 L450.4,64 L450.65,64 L450.9,64 L451.15,64 L451.4,64 L451.65,64 L451.9,64 L452.15,64 L452.4,64 L452.65,64 L452.9,64 L453.15,64 L453.4,64 L453.65,64 L453.9,64 L454.15,64 L454.4,64 L454.65,64 L454.9,64 L455.15,64 L455.4,64 L455.65,64 L455.9,64 L456.15,64 L456.4,64 L456.65,64 L456.9,64 L457.15,64 L457.4,64 L457.65,64 L457.9,64 L458.15,64 L458.4,64 L458.65,64 L458.9,64 L459.15,64 L459.4,64 L459.65,64 L459.9,64 L460.15,64 L460.4,64 L460.65,64 L460.9,64 L461.15,64 L461.4,64 L461.65,64 L461.9,64 L462.15,64 L462.4,64 L462.65,64 L462.9,64 L463.15,63.97 L463.4,63.77 L463.65,63.44 L463.9,62.99 L464.15,62.44 L464.4,61.81 L464.65,61.1 L464.9,60.33 L465.15,59.5 L465.4,58.62 L465.65,57.69 L465.9,56.72 L466.15,55.73 L466.4,54.71 L466.65,53.66 L466.9,52.61 L467.15,51.54 L467.4,50.47 L467.65,49.4 L467.9,48.33 L468.15,47.27 L468.4,46.22 L468.65,45.18 L468.9,44.16 L469.15,43.16 L469.4,42.18 L469.65,41.22 L469.9,40.29 L470.15,39.39 L470.4,38.51 L470.65,37.66 L470.9,36.84 L471.15,36.05 L471.4,35.29 L471.65,34.56 L471.9,33.87 L472.15,33.2 L472.4,32.57 L472.65,31.96 L472.9,31.39 L473.15,30.84 L473.4,30.32 L473.65,29.83 L473.9,29.37 L474.15,28.94 L474.4,28.53 L474.65,28.14 L474.9,27.78 L475.15,27.44 L475.4,27.13 L475.65,26.83 L475.9,26.55 L476.15,26.3 L476.4,26.06 L476.65,25.83 L476.9,25.63 L477.15,25.44 L477.4,25.26 L477.65,25.1 L477.9,24.95 L478.15,24.81 L478.4,24.68 L478.65,24.56 L478.9,24.45 L479.15,24.36 L479.4,24.27 L479.65,24.18 L479.9,24.11 L480.15,24.04 L480.4,23.98 L480.65,23.92 L480.9,23.87 L481.15,23.82 L481.4,23.78 L481.65,23.74 L481.9,23.7 L482.15,23.67 L482.4,23.64 L482.65,23.62 L482.9,23.59 L483.15,23.57 L483.4,23.55 L483.65,23.54 L483.9,23.52 L484.15,23.51 L484.4,23.5 L484.65,23.48 L484.9,23.47 L485.15,23.47 L485.4,23.46 L485.65,23.45 L485.9,23.45 L486.15,23.44 L486.4,23.44 L486.65,23.43 L486.9,23.43 L487.15,23.42 L487.4,23.42 L487.65,23.42 L487.9,23.42 L488.15,23.41 L488.4,23.41 L488.65,23.41 L488.9,23.41 L489.15,23.41 L489.4,23.41 L489.65,23.41 L489.9,23.41 L490.15,23.4 L490.4,23.4 L490.65,23.4 L490.9,23.4 L491.15,23.4 L491.4,23.4 L491.65,23.4 L491.9,23.4 L492.15,23.4 L492.4,23.4 L492.65,23.4 L492.9,23.4 L493.15,23.4 L493.4,23.4 L493.65,23.4 L493.9,23.4 L494.15,23.4 L494.4,23.4 L494.65,23.4 L494.9,23.4 L495.15,23.4 L495.4,23.4 L495.65,23.4 L495.9,23.4 L496.15,23.4 L496.4,23.4 L496.65,23.4 L496.9,23.4 L497.15,23.4 L497.4,23.4 L497.65,23.4 L497.9,23.4 L498.15,23.4 L498.4,23.4 L498.65,23.4 L498.9,23.4 L499.15,23.4 L499.4,23.4 L499.65,23.4 L499.9,23.4 L500.15,23.4 L500.4,23.4 L500.65,23.4 L500.9,23.4 L501.15,23.4 L501.4,23.4 L501.65,23.4 L501.9,23.4 L502.15,23.4 L502.4,23.4 L502.65,23.4 L502.9,23.4 L503.15,23.4 L503.4,23.4 L503.65,23.4 L503.9,23.4 L504.15,23.4 L504.4,23.4 L504.65,23.4 L504.9,23.4 L505.15,23.4 L505.4,23.4 L505.65,23.4 L505.9,23.4 L506.15,23.4 L506.4,23.4 L506.65,23.4 L506.9,23.4 L507.15,23.4 L507.4,23.4 L507.65,23.4 L507.9,23.4 L508.15,23.4 L508.4,23.4 L508.65,23.4 L508.9,23.4 L509.15,23.4 L509.4,23.4 L509.65,23.4 L509.9,23.4 L510.15,23.4 L510.4,23.4 L510.65,23.4 L510.9,23.4 L511.15,23.4 L511.4,23.4 L511.65,23.4 L511.9,23.4 L512.15,23.4 L512.4,23.4 L512.65,23.4 L512.9,23.4 L513.15,23.4 L513.4,23.4 L513.65,23.4 L513.9,23.4 L514.15,23.4 L514.4,23.4 L514.65,23.4 L514.9,23.4 L515.15,23.4 L515.4,23.4 L515.65,23.4 L515.9,23.4 L516.15,23.4 L516.4,23.4 L516.65,23.4 L516.9,23.4 L517.15,23.4 L517.4,23.4 L517.65,23.4 L517.9,23.4 L518.15,23.4 L518.4,23.4 L518.65,23.4 L518.9,23.4 L519.15,23.4 L519.4,23.4 L519.65,23.4 L519.9,23.4 L520.15,23.4 L520.4,23.4 L520.65,23.4 L520.9,23.4 L521.15,23.4 L521.4,23.4 L521.65,23.4 L521.9,23.4 L522.15,23.4 L522.4,23.4 L522.65,23.4 L522.9,23.4 L523.15,23.4 L523.4,23.4 L523.65,23.4 L523.9,23.4 L524.15,23.4 L524.4,23.4 L524.65,23.4 L524.9,23.4 L525.15,23.4 L525.4,23.4 L525.65,23.4 L525.9,23.4 L526.15,23.4 L526.4,23.4 L526.65,23.4 L526.9,23.4 L527.15,23.4 L527.4,23.4 L527.65,23.4 L527.9,23.4 L528.15,23.4 L528.4,23.4 L528.65,23.4 L528.9,23.4 L529.15,23.4 L529.4,23.4 L529.65,23.4 L529.9,23.4 L530.15,23.4 L530.4,23.4 L530.65,23.4 L530.9,23.4 L531.15,23.4 L531.4,23.4 L531.65,23.4 L531.9,23.4 L532.15,23.4 L532.4,23.4 L532.65,23.4 L532.9,23.4 L533.15,23.4 L533.4,23.4 L533.65,23.4 L533.9,23.4 L534.15,23.4 L534.4,23.4 L534.65,23.4 L534.9,23.4 L535.15,23.4 L535.4,23.4 L535.65,23.4 L535.9,23.4 L536.15,23.4 L536.4,23.4 L536.65,23.4 L536.9,23.4 L537.15,23.4 L537.4,23.4 L537.65,23.4 L537.9,23.4 L538.15,23.4 L538.4,23.4 L538.65,23.4 L538.9,23.4 L539.15,23.4 L539.4,23.4 L539.65,23.4 L539.9,23.4 L540.15,23.4 L540.4,23.4 L540.65,23.4 L540.9,23.4 L541.15,23.4 L541.4,23.4 L541.65,23.4 L541.9,23.4 L542.15,23.4 L542.4,23.4 L542.65,23.4 L542.9,23.4 L543.15,23.4 L543.4,23.4 L543.65,23.4 L543.9,23.4 L544.15,23.4 L544.4,23.4 L544.65,23.4 L544.9,23.4 L545.15,23.4 L545.4,23.4 L545.65,23.4 L545.7,23.4" fill="none" stroke="#f36b38" stroke-width="1.45" stroke-linejoin="round" />
<path d="M41.9,110.7 L75.2,110.7 L75.4,102.9 L79.9,110.9 L81,110.9 L84,110.9 L84.5,110.1 L85,110.8 L86.5,110.7 L172,110.7 L172.3,127 L173.5,124 L179,110.3 L181,110.9 L185,111.4 L188,111.2 L190,110.6 L269,110.7 L269.4,86.2 L278.4,111 L281,110.8 L285.2,109.7 L287,110.5 L365.5,110.7 L365.8,133.3 L374.8,110.1 L378,110.4 L382.5,111.3 L385,110.6 L462.6,110.7 L462.9,90.5 L471.6,111 L473,110.7 L476,110.4 L545.7,110.7" fill="none" stroke="#1784cf" stroke-width="1.2" stroke-linejoin="round" />
<path d="M41.9,247.3 L75.2,247.3 L75.36,246.78 L75.59,246.05 L75.85,245.19 L76.14,244.26 L76.43,243.34 L76.7,242.5 L76.96,241.68 L77.24,240.81 L77.51,239.95 L77.79,239.14 L78.05,238.44 L78.3,237.9 L78.54,237.51 L78.76,237.24 L78.97,237.08 L79.19,237.01 L79.39,237.02 L79.6,237.1 L79.8,237.27 L79.99,237.54 L80.17,237.89 L80.37,238.3 L80.57,238.75 L80.8,239.2 L81.05,239.69 L81.31,240.24 L81.59,240.82 L81.89,241.41 L82.19,241.98 L82.5,242.5 L82.84,242.98 L83.2,243.44 L83.58,243.87 L83.95,244.29 L84,243.92 L84.3,245.36 L84.6,244.58 L84.9,246.07 L85.2,245.34 L85.5,246.77 L85.8,245.88 L86.1,247.18 L86.4,246.22 L86.7,247.48 L87,246.49 L87.3,247.71 L87.6,246.69 L87.9,247.79 L88.2,246.91 L88.5,247.7 L88.8,247.07 L89.1,247.56 L89.4,247.2 L89.7,247.39 L90,247.3 L90.19,247.3 L90.66,247.3 L91,247.3 L172.2,247.3 L172.35,247.71 L172.56,248.24 L172.81,248.89 L173.08,249.63 L173.35,250.44 L173.6,251.3 L173.83,252.27 L174.07,253.38 L174.3,254.56 L174.53,255.74 L174.77,256.88 L175,257.9 L175.23,258.83 L175.45,259.71 L175.67,260.55 L175.9,261.32 L176.14,262.01 L176.4,262.6 L176.69,263.12 L177.01,263.59 L177.35,263.97 L177.69,264.25 L178.01,264.4 L178.3,264.4 L178.56,264.23 L178.8,263.91 L179.03,263.46 L179.25,262.91 L179.47,262.28 L179.7,261.6 L179.93,260.82 L180.15,259.91 L180.37,258.92 L180.6,257.9 L180.84,256.91 L181.1,256 L181.39,255.14 L181.7,254.29 L182.03,253.46 L182.36,252.68 L182.68,251.95 L183,251.3 L183.3,250.73 L183.59,250.21 L183.88,249.76 L184.17,249.36 L184.3,248.56 L184.6,249.99 L184.9,247.96 L185.2,249.51 L185.5,247.59 L185.8,249.23 L186.1,247.38 L186.4,249.05 L186.7,247.22 L187,248.9 L187.3,247.07 L187.6,248.77 L187.9,247 L188.2,248.43 L188.5,247.08 L188.8,248.05 L189.1,247.17 L189.4,247.68 L189.7,247.26 L269.2,247.3 L269.34,246.26 L269.53,244.8 L269.76,243.09 L270,241.27 L270.26,239.52 L270.5,238 L270.73,236.66 L270.97,235.37 L271.21,234.14 L271.46,232.99 L271.72,231.94 L272,231 L272.3,230.18 L272.62,229.48 L272.95,228.87 L273.29,228.34 L273.64,227.89 L274,227.5 L274.37,227.17 L274.76,226.9 L275.15,226.71 L275.54,226.6 L275.93,226.56 L276.3,226.6 L276.66,226.72 L277.02,226.93 L277.37,227.21 L277.7,227.57 L278.02,228 L278.3,228.5 L278.54,229.08 L278.75,229.73 L278.93,230.46 L279.11,231.26 L279.29,232.1 L279.5,233 L279.73,234 L279.98,235.13 L280.23,236.31 L280.49,237.48 L280.75,238.57 L281,239.5 L281.24,240.27 L281.48,240.93 L281.72,241.5 L281.96,242.02 L282.22,242.51 L282.5,243 L282.8,243.49 L283.11,243.95 L283.44,244.39 L283.78,244.79 L284,244.49 L284.3,246.22 L284.6,245.04 L284.9,246.73 L285.2,245.51 L285.5,247.14 L285.8,245.85 L286.1,247.42 L286.4,246.09 L286.7,247.62 L287,246.26 L287.3,247.75 L287.6,246.37 L287.9,247.85 L288.2,246.45 L288.5,247.83 L288.8,246.63 L289.1,247.69 L289.4,246.8 L289.7,247.55 L290,246.96 L290.3,247.4 L290.6,247.12 L290.9,247.25 L291.43,247.25 L292,247.3 L366.4,247.3 L366.52,247.8 L366.69,248.47 L366.89,249.28 L367.1,250.16 L367.31,251.09 L367.5,252 L367.67,252.93 L367.82,253.92 L367.98,254.95 L368.13,255.99 L368.31,257.01 L368.5,258 L368.72,258.97 L368.96,259.94 L369.22,260.91 L369.48,261.83 L369.74,262.7 L370,263.5 L370.24,264.23 L370.48,264.9 L370.72,265.52 L370.96,266.08 L371.22,266.57 L371.5,267 L371.81,267.37 L372.15,267.7 L372.5,267.96 L372.85,268.14 L373.19,268.22 L373.5,268.2 L373.78,268.07 L374.04,267.86 L374.28,267.55 L374.52,267.14 L374.76,266.63 L375,266 L375.25,265.21 L375.5,264.24 L375.75,263.18 L376,262.07 L376.25,260.99 L376.5,260 L376.74,259.09 L376.98,258.2 L377.22,257.34 L377.46,256.52 L377.72,255.73 L378,255 L378.3,254.32 L378.63,253.69 L378.97,253.09 L379.31,252.54 L379.66,252.01 L380,251.5 L380.33,251.01 L380.67,250.54 L381,250.09 L381.33,249.69 L381.67,249.32 L382,248.4 L382.3,249.75 L382.6,247.94 L382.9,249.38 L383.2,247.65 L383.5,249.15 L383.8,247.46 L384.1,248.98 L384.4,247.3 L384.7,248.84 L385,247.18 L385.3,248.72 L385.6,247.07 L385.9,248.5 L386.2,247.13 L386.5,248.15 L386.8,247.18 L387.1,247.81 L387.4,247.24 L387.7,247.47 L463,247.3 L463.13,246.74 L463.31,245.99 L463.52,245.09 L463.75,244.09 L463.98,243.04 L464.2,242 L464.41,240.9 L464.62,239.7 L464.83,238.45 L465.05,237.21 L465.27,236.04 L465.5,235 L465.74,234.07 L465.99,233.21 L466.24,232.42 L466.49,231.7 L466.75,231.06 L467,230.5 L467.25,230.04 L467.51,229.68 L467.76,229.39 L468.01,229.17 L468.26,228.98 L468.5,228.8 L468.72,228.63 L468.93,228.48 L469.14,228.36 L469.34,228.3 L469.56,228.31 L469.8,228.4 L470.06,228.58 L470.35,228.83 L470.65,229.14 L470.95,229.53 L471.24,229.98 L471.5,230.5 L471.74,231.12 L471.97,231.84 L472.18,232.63 L472.39,233.45 L472.59,234.25 L472.8,235 L473,235.7 L473.18,236.37 L473.36,237.03 L473.54,237.69 L473.75,238.34 L474,239 L474.29,239.68 L474.61,240.39 L474.95,241.09 L475.3,241.78 L475.66,242.42 L476,242.58 L476.3,244.17 L476.6,243.47 L476.9,244.99 L477.2,244.23 L477.5,245.69 L477.8,244.88 L478.1,246.29 L478.4,245.44 L478.7,246.8 L479,245.89 L479.3,247.19 L479.6,246.22 L479.9,247.37 L480.2,246.54 L480.5,247.38 L480.8,246.79 L481.1,247.32 L481.4,246.99 L481.7,247.23 L482.19,247.2 L482.66,247.25 L483,247.3 L545.7,247.3" fill="none" stroke="#1784cf" stroke-width="1.3" stroke-linejoin="round" />
<path d="M41.9,179 L75.4,179 L75.5,155 L79,155 L79.5,190 L79.7,176.67 L80.2,187.57 L80.7,175.61 L81.2,185.33 L81.7,175.73 L82.2,185.69 L82.7,176.57 L83.2,184.64 L83.7,177.31 L84.2,186.42 L84.7,178.77 L85.1,155 L85.3,155.71 L85.6,187.53 L85.9,156.88 L86.2,187.43 L86.5,158.51 L86.8,186.87 L87.1,161.32 L87.4,187.22 L87.7,163.86 L88,187.43 L88.3,166.38 L88.6,187.8 L88.9,169.86 L89.2,190.94 L89.5,173.01 L89.8,189.95 L90.1,176.76 L90.4,192 L90.8,179 L92,179 L92.6,178 L93.3,179 L172.3,179 L172.4,202.6 L178.6,202.6 L179.2,165.3 L179.4,167.73 L179.7,183.36 L180,170.35 L180.3,184.41 L180.6,172.14 L180.9,185.52 L181.3,175.02 L181.75,186.22 L182.2,176.25 L182.65,191.45 L183.1,171.18 L183.55,193.94 L184,176.75 L184.45,195.58 L184.9,175.82 L185.5,174.1 L185.8,201.39 L186.1,174.21 L186.4,199.78 L186.7,175.52 L187,198 L187.3,177.38 L187.6,196.28 L187.9,176.51 L188.2,194.54 L188.5,175.54 L188.8,192.76 L189.1,168.02 L189.4,190.68 L189.7,173.06 L190,188.65 L190.3,168.9 L190.6,186.67 L190.9,165.37 L191.2,184.63 L191.5,169.69 L191.8,182.68 L192.1,168.56 L192.6,179 L269.2,179 L269.3,155 L277.6,155 L278.8,195 L279,182.56 L279.55,186.77 L280.1,174.19 L280.65,185.54 L281.2,173.95 L281.75,186.69 L282.3,171.63 L282.85,184.64 L283.4,172.38 L283.95,187 L284.7,155 L284.9,155.8 L285.2,187.28 L285.5,156.38 L285.8,185.12 L286.1,157.46 L286.4,182.5 L286.7,158.53 L287,182.62 L287.3,160.03 L287.6,185.76 L287.9,162.12 L288.2,186.17 L288.5,164.03 L288.8,185.95 L289.1,166.64 L289.4,187.47 L289.7,168.95 L290,191.65 L290.3,171.89 L290.6,185.7 L290.9,174.99 L291.3,186 L291.8,179 L366,179 L366.1,202.6 L374,202.6 L374.9,160.3 L375.1,161.82 L375.4,179.07 L375.7,165.65 L376,181.17 L376.3,169.16 L376.6,183.31 L376.9,169.66 L377.3,171.08 L377.7,186.3 L378.1,170.94 L378.5,188.12 L378.9,170.69 L379.3,191.58 L379.7,172.81 L380.1,193.26 L380.5,172.86 L380.9,197.61 L381.3,172.91 L381.7,197.66 L382.1,169.23 L382.4,201.57 L382.7,173.59 L383,199.86 L383.3,173.54 L383.6,197.72 L383.9,173.91 L384.2,195.8 L384.5,172.98 L384.8,193.7 L385.1,166.24 L385.4,191.96 L385.7,170.24 L386,189.72 L386.3,166.18 L386.6,187.28 L386.9,168.19 L387.2,184.72 L387.5,167.91 L387.8,182.13 L388.1,169.84 L388.6,178 L391.5,178 L391.7,186.7 L391.9,179 L393,179 L462.9,179 L463,155 L470,155 L471.2,195.5 L471.4,181.79 L471.9,192.39 L472.4,177.5 L472.9,188.51 L473.4,176.07 L473.9,187.65 L474.4,174.5 L474.9,188.69 L475.4,175.33 L475.9,187.7 L476.4,176.26 L476.9,188.64 L477.2,155 L477.4,155.67 L477.7,187.03 L478,155.84 L478.3,187.53 L478.6,156.83 L478.9,185.92 L479.2,157.99 L479.5,185.52 L479.8,159.11 L480.1,186.39 L480.4,160.99 L480.7,185.83 L481,162.64 L481.3,187.62 L481.6,164.39 L481.9,187.6 L482.2,166.56 L482.5,187.7 L482.8,169.18 L483.1,190.22 L483.4,171.34 L483.7,188.21 L484,174.06 L484.3,185.72 L484.6,176.67 L485.1,179 L545.7,179" fill="none" stroke="#1784cf" stroke-width="1.25" stroke-linejoin="round" />
<rect x="490.5" y="20.5" width="51.4" height="20.8" fill="#fff" stroke="#9a9a9a" stroke-width="0.9"/>
<path d="M492.1,26 H505.1" stroke="#1784cf" stroke-width="1.4"/>
<path d="M492.1,36.3 H505.1" stroke="#f36b38" stroke-width="1.4"/>
<text x="506.3" y="29.9" font-size="8.1" text-anchor="start" font-weight="normal" font-family="'Liberation Sans', Arial, sans-serif" fill="#2a2a2a" >reference</text>
<text x="506.3" y="39.4" font-size="8.1" text-anchor="start" font-weight="normal" font-family="'Liberation Sans', Arial, sans-serif" fill="#2a2a2a" >angle</text>
<rect x="507.5" y="89.1" width="34.8" height="14.5" fill="#fff" stroke="#9a9a9a" stroke-width="0.9"/>
<path d="M509.1,96.4 H522.1" stroke="#1784cf" stroke-width="1.4"/>
<text x="522.8" y="97.6" font-size="7.2" text-anchor="start" font-weight="normal" font-family="'Liberation Serif', serif" fill="#2a2a2a" font-style="italic">σ</text>
<text x="528" y="101.8" font-size="6.3" text-anchor="start" font-weight="normal" font-family="'Liberation Sans', Arial, sans-serif" fill="#2a2a2a" >STA</text>
<rect x="507.3" y="157.5" width="34.2" height="14.7" fill="#fff" stroke="#9a9a9a" stroke-width="0.9"/>
<path d="M509,165.2 H522" stroke="#1784cf" stroke-width="1.4"/>
<text x="523.3" y="166" font-size="8" text-anchor="start" font-weight="normal" font-family="'Liberation Sans', Arial, sans-serif" fill="#2a2a2a" >u</text>
<text x="527.5" y="170.2" font-size="6.3" text-anchor="start" font-weight="normal" font-family="'Liberation Sans', Arial, sans-serif" fill="#2a2a2a" >STA</text>
<rect x="507.1" y="226.3" width="35" height="15" fill="#fff" stroke="#9a9a9a" stroke-width="0.9"/>
<path d="M509,234 H522" stroke="#1784cf" stroke-width="1.4"/>
<text x="522.9" y="232.9" font-size="6" text-anchor="start" font-weight="normal" font-family="'Liberation Serif', serif" fill="#2a2a2a" font-style="italic">ω</text>
<text x="528" y="238.8" font-size="6.3" text-anchor="start" font-weight="normal" font-family="'Liberation Sans', Arial, sans-serif" fill="#2a2a2a" >STA</text>
<text transform="translate(293.9,12.7) scale(1,1.08)" font-size="9.95" text-anchor="middle" font-weight="bold" font-family="'Liberation Sans', Arial, sans-serif" fill="#111" style="stroke:#111;stroke-width:0.15px">BSTA real-time experiment</text>
<text x="294" y="295.2" font-size="9.2" text-anchor="middle" font-weight="normal" font-family="'Liberation Sans', Arial, sans-serif" fill="#2a2a2a" >Time [s]</text>
<text transform="translate(16.9,41.7) rotate(-90)" font-size="9.4" text-anchor="middle" font-family="'Liberation Sans', Arial, sans-serif" fill="#2a2a2a">Angle [deg]</text>
<text transform="translate(12.2,110.2) rotate(-90)" font-size="10.5" text-anchor="middle" font-family="'Liberation Serif', serif" font-style="italic" fill="#2a2a2a">σ</text>
<text transform="translate(22.1,178.9) rotate(-90)" font-size="9.4" text-anchor="middle" font-family="'Liberation Sans', Arial, sans-serif" fill="#2a2a2a">U[V]</text>
<text transform="translate(10.6,247.0) rotate(-90)" font-size="10" text-anchor="middle" font-family="'Liberation Sans', Arial, sans-serif" fill="#2a2a2a"><tspan font-family="'Liberation Serif', serif" font-style="italic" font-size="7.5" fill="#6a6a6a" stroke="none">ω</tspan>[rad/s]</text>
</svg>
</body></html>
